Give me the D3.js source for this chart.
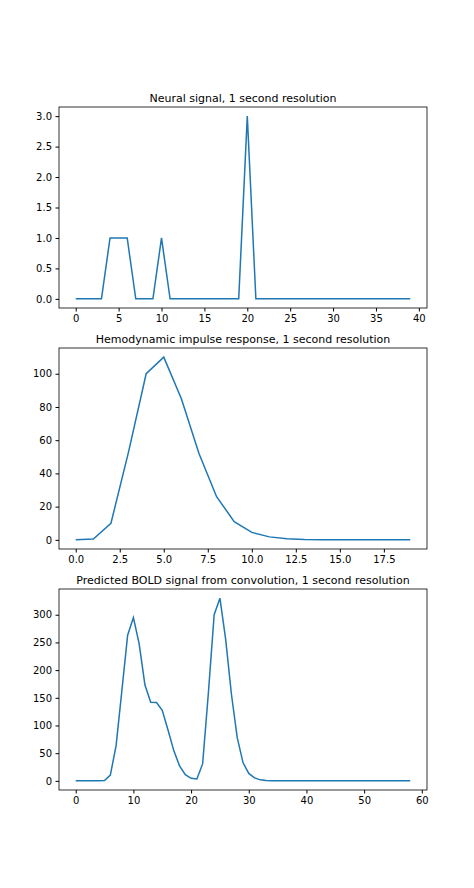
<!DOCTYPE html>
<html><head><meta charset="utf-8">
<script src="https://cdn.jsdelivr.net/npm/d3@7"></script>
<style>body{margin:0;background:#fff}svg text{font-family:"DejaVu Sans",sans-serif}</style>
</head><body><svg id="c" width="474" height="888"></svg>
<script>
const neural=[0,0,0,0,1,1,1,0,0,0,1,0,0,0,0,0,0,0,0,0,3,0,0,0,0,0,0,0,0,0,0,0,0,0,0,0,0,0,0,0];
const hrf=[0,0.5,10,53,100,110,85,52,26,11,4.5,1.8,0.6,0.2,0.05,0.01,0,0,0,0];
const bold=[0,0,0,0,0,0.5,10.5,63.5,163,263,295,247.5,173,142,141.5,127.3,91.9,54.6,26.9,11.3,4.6,3.3,30.6,159,300,330,255,156,78,33,13.5,5.4,1.8,0.6,0.15,0.03,0,0,0,0,0,0,0,0,0,0,0,0,0,0,0,0,0,0,0,0,0,0,0];
const titles=["Neural signal, 1 second resolution","Hemodynamic impulse response, 1 second resolution","Predicted BOLD signal from convolution, 1 second resolution"];
const xticks=[[0,5,10,15,20,25,30,35,40],[0,2.5,5,7.5,10,12.5,15,17.5],[0,10,20,30,40,50,60]];
const yticks=[[0,0.5,1,1.5,2,2.5,3],[0,20,40,60,80,100],[0,50,100,150,200,250,300]];
const svg=d3.select("#c");
const L=59,R=427,tops=[107,348,589],H=201;
[neural,hrf,bold].forEach((d,i)=>{
  const n=d.length,mx=d3.max(d),mn=d3.min(d);
  const x=d3.scaleLinear().domain([-0.05*(n-1),(n-1)*1.05]).range([L,R]);
  const y=d3.scaleLinear().domain([mn-0.05*(mx-mn),mx+0.05*(mx-mn)]).range([tops[i]+H,tops[i]]);
  const g=svg.append("g");
  g.append("g").attr("transform",`translate(0,${tops[i]+H})`).call(d3.axisBottom(x).tickValues(xticks[i]).tickFormat(i==1?(v=>v.toFixed(1)):d3.format("d")).tickSize(3.5).tickPadding(3.5)).call(a=>{a.select(".domain").remove();a.selectAll("text").attr("font-size",10).attr("fill","#000");});
  g.append("g").attr("transform",`translate(${L},0)`).call(d3.axisLeft(y).tickValues(yticks[i]).tickFormat(i==0?(v=>v.toFixed(1)):d3.format("d")).tickSize(3.5).tickPadding(3.5)).call(a=>{a.select(".domain").remove();a.selectAll("text").attr("font-size",10).attr("fill","#000");});
  g.append("path").datum(d).attr("fill","none").attr("stroke","#1f77b4").attr("stroke-width",1.5)
   .attr("d",d3.line().x((v,k)=>x(k)).y(v=>y(v)));
  g.append("rect").attr("x",L).attr("y",tops[i]).attr("width",R-L).attr("height",H).attr("fill","none").attr("stroke","#000").attr("stroke-width",0.8);
  g.append("text").attr("x",(L+R)/2).attr("y",tops[i]-5).attr("text-anchor","middle").attr("font-size",11).text(titles[i]);
});
</script></body></html>
